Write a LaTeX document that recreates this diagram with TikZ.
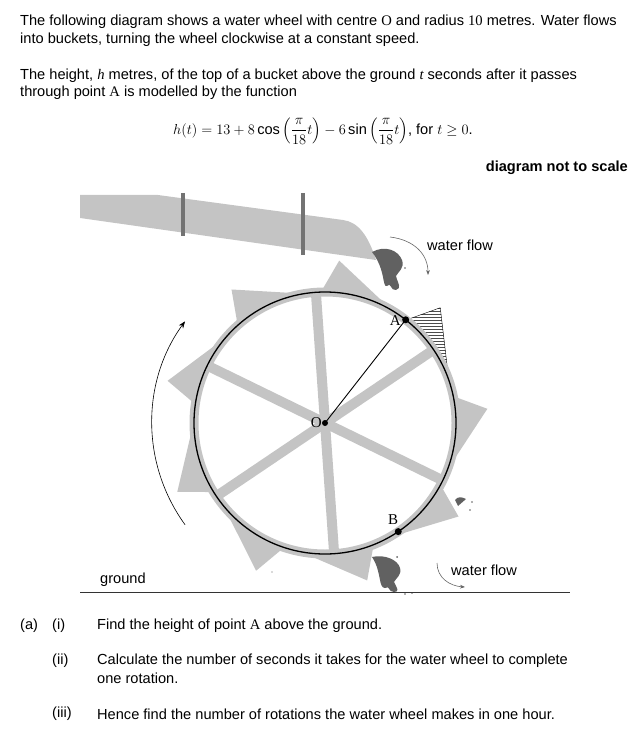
\documentclass[tikz,border=0pt]{standalone}
\usepackage{amsmath}
\usepackage{fontspec}
\setmainfont{Liberation Sans}
\newfontfamily\tms{Liberation Serif}
\usetikzlibrary{patterns,arrows.meta}
\begin{document}
\begin{tikzpicture}[x=1pt,y=1pt,
  txt/.style={anchor=west,inner sep=0pt,font=\fontsize{14.6}{17}\selectfont},
  lab/.style={inner sep=0pt,font=\tms\fontsize{15}{17}\selectfont},
  bucket/.style={fill=black!23},
  spoke/.style={draw=black!23,line width=10pt},
  flow/.style={draw=black!60,-{Stealth[length=5pt]},line width=0.6pt},
  splash/.style={fill=black!62}]
\useasboundingbox (0,0) rectangle (642,-735);
\node[txt] (t1) at (20,-22) {The following diagram shows a water wheel with centre {\tms O} and radius {\tms 10} metres. Water flows};
\node[txt] (t2) at (20,-40) {into buckets, turning the wheel clockwise at a constant speed.};
\node[txt] (t3) at (20,-76) {The height, {\tms\itshape h} metres, of the top of a bucket above the ground {\tms\itshape t} seconds after it passes};
\node[txt] (t4) at (20,-93) {through point {\tms A} is modelled by the function};
\node[txt] (f) at (173,-131) {$h(t)=13+8\cos\left(\dfrac{\pi}{18}t\right)-6\sin\left(\dfrac{\pi}{18}t\right)$, for $t\geq0$.};
\node[txt,anchor=east,font=\fontsize{14.6}{17}\selectfont\bfseries] (nts) at (628,-168) {diagram not to scale};
% pipe
\fill[black!23] (80,-195) -- (158,-195) -- (343,-220) .. controls (358,-222) and (368,-235) .. (376,-260) -- (80,-218) -- cycle;
\draw[black!55,line width=4pt] (183,-193) -- (183,-236);
\draw[black!55,line width=4pt] (303,-193) -- (303,-255);
% splashes
\fill[splash] (372,-252) .. controls (385,-245) and (398,-250) .. (402,-260) .. controls (405,-268) and (398,-272) .. (396,-276) .. controls (398,-284) and (402,-288) .. (396,-290) .. controls (390,-291) and (392,-282) .. (387,-286) .. controls (382,-288) and (386,-270) .. cycle;
\fill[splash] (393,-286) circle (1pt) (405,-268) circle (0.8pt);
\fill[splash] (372,-557) .. controls (385,-554) and (398,-560) .. (400,-568) .. controls (402,-575) and (396,-578) .. (394,-582) .. controls (397,-588) and (400,-592) .. (394,-592) .. controls (388,-592) and (390,-585) .. (385,-588) .. controls (378,-588) and (382,-572) .. cycle;
\fill[splash] (397,-557) circle (1pt) (405,-594) circle (0.8pt) (412,-593) circle (0.8pt) (272,-572) circle (0.7pt);
\fill[splash] (455,-500) .. controls (458,-496) and (462,-497) .. (466,-499) -- (458,-506) -- cycle;
\fill[splash] (472,-502) circle (0.8pt) (470,-510) circle (0.8pt);
% flow arrows
\node[txt] (wf1) at (427,-245) {water flow};
\node[txt] (wf2) at (451,-570) {water flow};
\draw[flow] (390,-237) .. controls (415,-240) and (428,-255) .. (428,-275);
\draw[flow] (437,-563) .. controls (437,-578) and (450,-586) .. (465,-587);
% wheel
\coordinate (O) at (325,-423);
\foreach \a in {5,85,125,165,205,245,285,325}
  \fill[bucket,shift={(O)}] (\a+6:134) -- (\a:163) -- (\a-21:134) -- cycle;
\draw[pattern=horizontal lines,pattern color=black!70,shift={(O)}] (51:134) -- (45:163) -- (24:134) -- cycle;
\foreach \a in {34,94,154,214,274,334}
  \draw[spoke,shift={(O)}] (0,0) -- (\a:128);
\draw[black!23,line width=9pt] (O) circle (131);
\draw[black,line width=1.3pt] (O) circle (131);
\path[shift={(O)}] (52:131) coordinate (A) (-56:131) coordinate (B);
\draw[line width=0.9pt] (O) -- (A);
\fill (O) circle (3pt) (A) circle (3.5pt) (B) circle (3.5pt);
\node[lab,anchor=east] (Ol) at (322,-423) {O};
\node[lab,anchor=east] (Al) at (401,-321) {A};
\node[lab] (Bl) at (393,-520) {B};
% rotation arrow
\draw[-{Stealth[length=7pt]},line width=0.6pt,shift={(O)}] (216:173) arc (216:144:173);
% ground
\draw[black!80,line width=1pt] (80,-592) -- (570,-592) coordinate (g);
\node[txt] (gl) at (100,-580) {ground};
% questions
\node[txt] (qa) at (20,-626) {(a)};
\node[txt] (q1) at (52,-626) {(i)};
\node[txt] (q1t) at (97,-626) {Find the height of point {\tms A} above the ground.};
\node[txt] (q2) at (52,-661) {(ii)};
\node[txt] (q2t) at (97,-661) {Calculate the number of seconds it takes for the water wheel to complete};
\node[txt] (q2u) at (97,-678) {one rotation.};
\node[txt] (q3) at (52,-714) {(iii)};
\node[txt] (q3t) at (97,-714) {Hence find the number of rotations the water wheel makes in one hour.};
\end{tikzpicture}
\end{document}
